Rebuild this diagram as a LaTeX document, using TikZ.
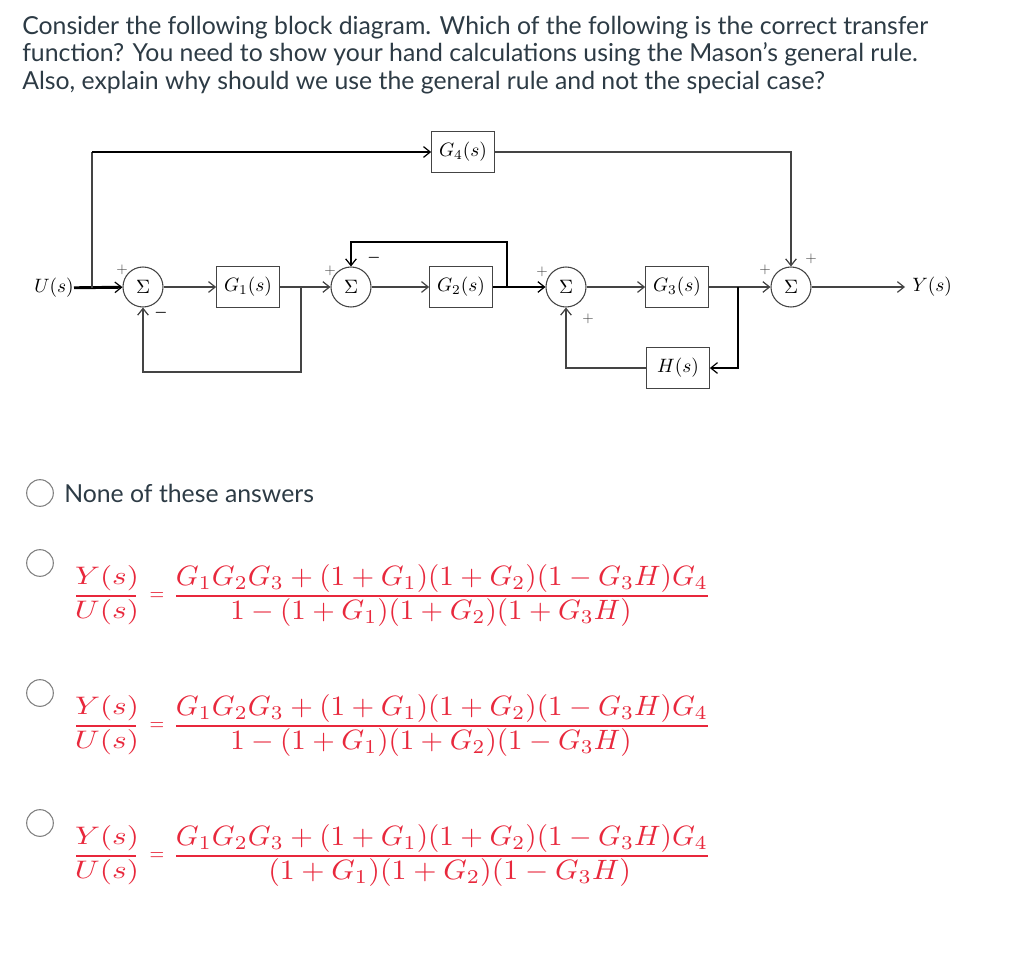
\documentclass[tikz,border=0pt]{standalone}
\usepackage{fontspec}
\setmainfont{Lato}
\usepackage{amsmath}
\usetikzlibrary{arrows.meta}
\definecolor{txt}{HTML}{2D3B45}
\definecolor{ans}{HTML}{E8283C}
\definecolor{ln}{HTML}{444444}
\newcommand{\dgm}[1]{\scalebox{1.45}{$#1$}}
\tikzset{
 blk/.style={draw=ln,line width=0.8pt,minimum width=47pt,minimum height=31pt,inner sep=0pt},
 sumn/.style={draw=ln,line width=0.8pt,circle,minimum size=30pt,inner sep=0pt},
 thin/.style={draw=ln,line width=0.9pt},
 thick/.style={draw=black,line width=2.2pt},
 arr/.style={-{Straight Barb[length=5pt,width=8pt,line width=0.9pt]}},
 sgn/.style={text=ln,inner sep=0pt},
 radio/.style={draw=gray,line width=0.8pt,circle,minimum size=20pt,inner sep=0pt,fill=white},
 para/.style={anchor=north west,inner sep=0pt,text=txt,font=\fontsize{18.6}{20.6}\selectfont,align=left},
}
\begin{document}
\begin{tikzpicture}[x=0.75pt,y=-0.75pt]
\useasboundingbox (0,0) rectangle (1024,963);
\node[para] (title) at (22,16) {Consider the following block diagram. Which of the following is the correct transfer\\function? You need to show your hand calculations using the Mason's general rule.\\Also, explain why should we use the general rule and not the special case?};
% diagram
\node[inner sep=0pt,anchor=east] (U) at (74,288) {\dgm{U(s)}};
\node[sumn] (s1) at (143,287) {\dgm{\Sigma}};
\node[blk] (G1) at (248,287) {\dgm{G_1(s)}};
\node[sumn] (s2) at (351,287) {\dgm{\Sigma}};
\node[blk] (G2) at (461,287) {\dgm{G_2(s)}};
\node[sumn] (s3) at (566,287) {\dgm{\Sigma}};
\node[blk] (G3) at (677,287) {\dgm{G_3(s)}};
\node[sumn] (s4) at (791,287) {\dgm{\Sigma}};
\node[blk] (G4) at (463,152) {\dgm{G_4(s)}};
\node[blk] (H) at (678,368) {\dgm{H(s)}};
\node[inner sep=0pt,anchor=west] (Y) at (912,287) {\dgm{Y(s)}};
\coordinate (b0) at (92,288);
\coordinate (b0t) at (92,152);
\coordinate (b1) at (301,287);
\coordinate (b1d) at (301,372);
\coordinate (b1l) at (143,372);
\coordinate (b2) at (507,287);
\coordinate (b2u) at (507,242);
\coordinate (b2l) at (351,242);
\coordinate (b3) at (738,287);
\coordinate (b3d) at (738,368);
\coordinate (hl) at (566,368);
\coordinate (g4r) at (791,152);
\coordinate (yend) at (905,287);
\draw[thick,arr] (U) -- (s1);
\draw[thin] (b0) -- (b0t);
\draw[thick,arr] (b0t) -- (G4);
\draw[thin,arr] (s1) -- (G1);
\draw[thin,arr] (G1) -- (s2);
\draw[thin,arr] (b1) -- (b1d) -- (b1l) -- (s1);
\draw[thin,arr] (s2) -- (G2);
\draw[thick,arr] (G2) -- (s3);
\draw[thick,arr] (b2) -- (b2u) -- (b2l) -- (s2);
\draw[thin,line width=1.6pt,arr] (s3) -- (G3);
\draw[thin,arr] (G3) -- (s4);
\draw[thick,arr] (b3) -- (b3d) -- (H);
\draw[thin,line width=1.6pt,arr] (H) -- (hl) -- (s3);
\draw[thin,arr] (G4) -- (g4r) -- (s4);
\draw[thin,arr] (s4) -- (yend);
\node[sgn] (p1) at (122,270) {\scalebox{1.1}{$+$}};
\node[sgn,text=black] (m1) at (161,313) {\scalebox{1.1}{$\boldsymbol{-}$}};
\node[sgn] (p2) at (330,271) {\scalebox{1.1}{$+$}};
\node[sgn,text=black] (m2) at (374,258) {\scalebox{1.1}{$\boldsymbol{-}$}};
\node[sgn] (p3) at (542,272) {\scalebox{1.1}{$+$}};
\node[sgn] (p3b) at (588,319) {\scalebox{1.1}{$+$}};
\node[sgn] (p4) at (765,270) {\scalebox{1.1}{$+$}};
\node[sgn] (p4b) at (811,259) {\scalebox{1.1}{$+$}};
% answers
\node[radio] (r0) at (40,493) {};
\node[anchor=west,inner sep=0pt,text=txt,font=\fontsize{18.6}{20}\selectfont] (none) at (64,493) {None of these answers};
\foreach \yy/\den/\dl/\dw [count=\i] in {
 563/{1-(1+G_1)(1+G_2)(1+G_3H)}/230/301pt,
 693/{1-(1+G_1)(1+G_2)(1-G_3H)}/230/301pt,
 823/{(1+G_1)(1+G_2)(1-G_3H)}/268/272pt}{
 \node[radio] (r\i) at (40,\yy) {};
 \node[text=ans,inner sep=0pt] (ys\i) at (107,\yy+15) {\resizebox*{48pt}{19pt}{$Y(s)$}};
 \node[text=ans,inner sep=0pt] (us\i) at (107,\yy+49) {\resizebox*{48pt}{19pt}{$U(s)$}};
 \draw[ans,line width=0.8pt] (76,\yy+33) -- (136,\yy+33);
 \node[text=ans,inner sep=0pt] (eq\i) at (157,\yy+33) {\resizebox*{11pt}{6pt}{$=$}};
 \draw[ans,line width=0.8pt] (176,\yy+33) -- (708,\yy+33);
 \node[text=ans,inner sep=0pt] (num\i) at (442,\yy+15) {\resizebox*{399pt}{21pt}{$G_1G_2G_3+(1+G_1)(1+G_2)(1-G_3H)G_4$}};
 \node[text=ans,inner sep=0pt,anchor=west] (den\i) at (\dl,\yy+49) {\resizebox*{\dw}{21pt}{$\den$}};
}
\end{tikzpicture}
\end{document}
